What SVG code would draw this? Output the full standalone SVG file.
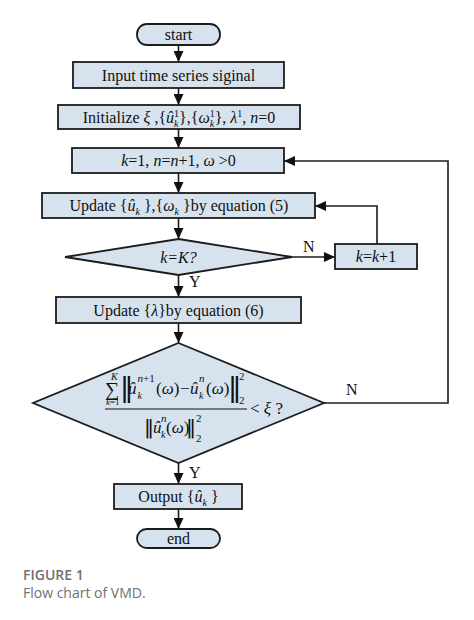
<svg xmlns="http://www.w3.org/2000/svg" width="474" height="620" viewBox="0 0 474 620">
<defs>
<style>
.box{fill:#d6e2ee;stroke:#1c1c1c;stroke-width:1.8}
.ln{fill:none;stroke:#1c1c1c;stroke-width:1.6}
.t{font-family:"Liberation Serif","DejaVu Serif",serif;font-size:16px;fill:#111}
.c{text-anchor:middle}
.i{font-style:italic}
.s{font-size:10px}
.f{font-family:"Liberation Serif","DejaVu Serif",serif;font-size:17px;fill:#111}
.z9{font-size:9px}
.z10{font-size:10px}
.z11{font-size:11px}
.z20{font-size:20px}
.bar{font-family:"DejaVu Sans",sans-serif;fill:#111}
.cap{font-family:"Open Sans","Noto Sans",sans-serif;font-size:14px;fill:#707070}
</style>
<marker id="ah" markerUnits="userSpaceOnUse" markerWidth="11" markerHeight="10" refX="11" refY="5" orient="auto">
<path d="M0,0 L11,5 L0,10 z" fill="#111"/>
</marker>
</defs>
<rect width="474" height="620" fill="#fff"/>

<g id="connectors">
<line class="ln" x1="178.5" y1="45" x2="178.5" y2="62" marker-end="url(#ah)"/>
<line class="ln" x1="178.5" y1="88" x2="178.5" y2="105" marker-end="url(#ah)"/>
<line class="ln" x1="178.5" y1="129" x2="178.5" y2="148" marker-end="url(#ah)"/>
<line class="ln" x1="178.5" y1="173" x2="178.5" y2="193" marker-end="url(#ah)"/>
<line class="ln" x1="178.5" y1="218" x2="178.5" y2="239" marker-end="url(#ah)"/>
<line class="ln" x1="178.5" y1="275" x2="178.5" y2="297" marker-end="url(#ah)"/>
<line class="ln" x1="178.5" y1="323" x2="178.5" y2="343" marker-end="url(#ah)"/>
<line class="ln" x1="178.5" y1="463" x2="178.5" y2="484" marker-end="url(#ah)"/>
<line class="ln" x1="178.5" y1="509" x2="178.5" y2="529" marker-end="url(#ah)"/>
<line class="ln" x1="292" y1="257" x2="335" y2="257" marker-end="url(#ah)"/>
<polyline class="ln" points="377,244 377,206 315,206" marker-end="url(#ah)"/>
<polyline class="ln" points="324,403 448,403 448,161 284,161" marker-end="url(#ah)"/>
<text class="t" x="303" y="252">N</text>
<text class="t" x="346" y="395">N</text>
<text class="t" x="189" y="287">Y</text>
<text class="t" x="189" y="478">Y</text>
</g>

<g id="start">
<rect class="box" x="137" y="24" width="83" height="21" rx="10"/>
<text class="t c" x="178.5" y="40">start</text>
</g>

<g id="input">
<rect class="box" x="73" y="62" width="211" height="26"/>
<text class="t c" x="178.5" y="80.5">Input time series siginal</text>
</g>

<g id="init">
<rect class="box" x="58" y="105" width="242" height="24"/>
<text class="t c" x="179" y="122.5">Initialize <tspan class="i">ξ</tspan> ,{<tspan class="i">û</tspan><tspan class="s i" dy="4">k</tspan><tspan class="s" dx="-4.5" dy="-10">1</tspan><tspan dy="6">},{</tspan><tspan class="i">ω</tspan><tspan class="s i" dy="4">k</tspan><tspan class="s" dx="-4.5" dy="-10">1</tspan><tspan dy="6">}, </tspan><tspan class="i">λ</tspan><tspan class="s" dy="-6">1</tspan><tspan dy="6">, </tspan><tspan class="i">n</tspan>=0</text>
</g>

<g id="kinit">
<rect class="box" x="72" y="148" width="212" height="25"/>
<text class="t c" x="178.5" y="166"><tspan class="i">k</tspan>=1, <tspan class="i">n</tspan>=<tspan class="i">n</tspan>+1, <tspan class="i">ω</tspan> &gt;0</text>
</g>

<g id="update5">
<rect class="box" x="42" y="193" width="273" height="25"/>
<text class="t c" x="179" y="211">Update {<tspan class="i">û</tspan><tspan class="s i" dy="4">k</tspan><tspan dy="-4"> },{</tspan><tspan class="i">ω</tspan><tspan class="s i" dy="4">k</tspan><tspan dy="-4"> }by equation (5)</tspan></text>
</g>

<g id="checkK">
<polygon class="box" points="178.5,239 292,257 178.5,275 65,257"/>
<text class="t c i" x="178.5" y="262.5">k=K?</text>
</g>

<g id="kinc">
<rect class="box" x="335" y="244" width="82" height="25"/>
<text class="t c" x="376" y="262"><tspan class="i">k</tspan>=<tspan class="i">k</tspan>+1</text>
</g>

<g id="update6">
<rect class="box" x="56" y="297" width="245" height="26"/>
<text class="t c" x="178.5" y="315.5">Update {<tspan class="i">λ</tspan>}by equation (6)</text>
</g>

<g id="converge">
<polygon class="box" points="178.5,343 324,403 178.5,463 33,403"/>
<text class="f z20" x="105" y="395.5">∑</text>
<text class="f i z10" x="111" y="380">K</text>
<text class="f z9" x="106" y="405"><tspan class="i">k</tspan>=1</text>
<text class="bar" x="120" y="396" font-size="27">‖</text>
<text class="f i" x="128" y="394">û</text>
<text class="f z11" x="137.5" y="382"><tspan class="i">n</tspan>+1</text>
<text class="f i z10" x="137.5" y="399">k</text>
<text class="f" x="156" y="394">(<tspan class="i">ω</tspan>)</text>
<text class="f" x="180" y="394">−</text>
<text class="f i" x="190" y="394">û</text>
<text class="f i z11" x="199" y="382">n</text>
<text class="f i z10" x="199" y="399">k</text>
<text class="f" x="206" y="394">(<tspan class="i">ω</tspan>)</text>
<text class="bar" x="228" y="396" font-size="27">‖</text>
<text class="f z11" x="239" y="380">2</text>
<text class="f z11" x="239" y="404">2</text>
<line x1="105" y1="409" x2="247" y2="409" stroke="#111" stroke-width="1"/>
<text class="f" x="250" y="414">&lt; <tspan class="i">ξ</tspan> ?</text>
<text class="bar" x="144" y="434" font-size="20">‖</text>
<text class="f i" x="153" y="433">û</text>
<text class="f i z11" x="161" y="422">n</text>
<text class="f i z10" x="161" y="438">k</text>
<text class="f" x="166" y="433">(<tspan class="i">ω</tspan>)</text>
<text class="bar" x="186" y="434" font-size="20">‖</text>
<text class="f z11" x="196" y="422">2</text>
<text class="f z11" x="196" y="442">2</text>
</g>

<g id="output">
<rect class="box" x="114" y="484" width="128" height="25"/>
<text class="t c" x="178.5" y="502">Output {<tspan class="i">û</tspan><tspan class="s i" dy="4">k</tspan><tspan dy="-4"> }</tspan></text>
</g>

<g id="end">
<rect class="box" x="137" y="529" width="83" height="19" rx="9.5"/>
<text class="t c" x="178.5" y="543.5">end</text>
</g>

<g id="caption">
<text class="cap" x="23" y="580" font-weight="600">FIGURE 1</text>
<text class="cap" x="23" y="598">Flow chart of VMD.</text>
</g>
</svg>
